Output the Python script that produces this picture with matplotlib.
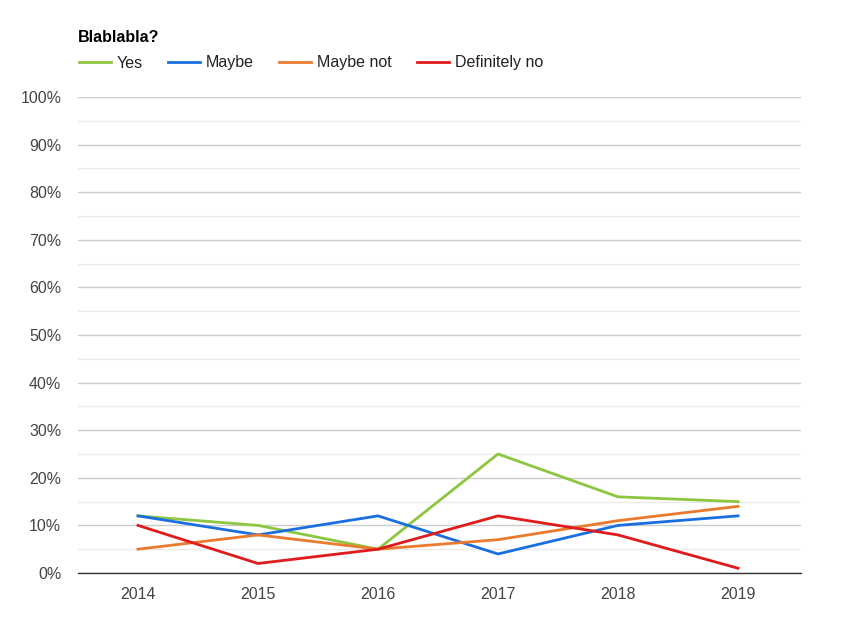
import matplotlib.pyplot as plt
from matplotlib.ticker import MultipleLocator, FuncFormatter

plt.rcParams['font.family'] = ['Liberation Sans', 'DejaVu Sans']

years = ['2014', '2015', '2016', '2017', '2018', '2019']
yes = [12, 10, 5, 25, 16, 15]
maybe = [12, 8, 12, 4, 10, 12]
maybe_not = [5, 8, 5, 7, 11, 14]
definitely_no = [10, 2, 5, 12, 8, 1]

series = [
    ("Yes", yes, '#8dc63f'),
    ("Maybe", maybe, '#1a6fe0'),
    ("Maybe not", maybe_not, '#ea7a2d'),
    ("Definitely no", definitely_no, '#e01b1b'),
]

fig = plt.figure(figsize=(8.43, 6.33), dpi=100)
ax = fig.add_axes([78 / 843, (633 - 573) / 633, (801 - 78) / 843, (573 - 97) / 633])

x = range(len(years))
for name, vals, col in series:
    ax.plot(x, vals, color=col, linewidth=2, label=name)

ax.set_xlim(-0.5, 5.525)
ax.set_ylim(0, 100)
ax.set_xticks(list(x))
ax.set_xticklabels(years)
ax.yaxis.set_major_locator(MultipleLocator(10))
ax.yaxis.set_minor_locator(MultipleLocator(5))
ax.yaxis.set_major_formatter(FuncFormatter(lambda v, p: f"{int(v)}%"))
ax.grid(True, which='major', axis='y', color='#cccccc', linewidth=1)
ax.grid(True, which='minor', axis='y', color='#ebebeb', linewidth=1)
ax.set_axisbelow(True)
ax.tick_params(axis='both', which='both', length=0, labelsize=11.5, colors='#444444')
ax.tick_params(axis='x', pad=10)
ax.tick_params(axis='y', pad=12)
for s in ['top', 'right', 'left']:
    ax.spines[s].set_visible(False)
ax.spines['bottom'].set_color('#333333')
ax.spines['bottom'].set_linewidth(1)

fig.text(78 / 843, 1 - 37 / 633, "Blablabla?", fontsize=11.5, fontweight='bold',
         color='#000000', va='center', ha='left')

leg = fig.legend(loc='center left', bbox_to_anchor=(79 / 843, 1 - 63 / 633), ncol=4,
                 frameon=False, fontsize=11.5, handlelength=2.0, handletextpad=0.35,
                 columnspacing=1.6, borderaxespad=0, borderpad=0)
for t in leg.get_texts():
    t.set_color('#222222')

fig.savefig("out.png", dpi=100)
